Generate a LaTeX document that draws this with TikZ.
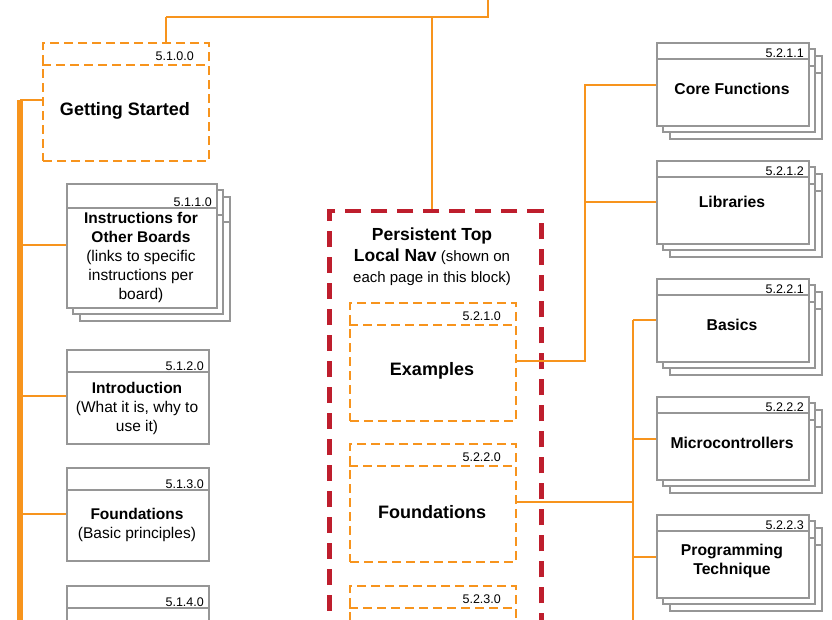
\documentclass[tikz,border=0pt]{standalone}
\usepackage{fontspec}
\setmainfont{Liberation Sans}
\definecolor{org}{RGB}{247,148,29}
\definecolor{grayb}{RGB}{150,150,150}
\definecolor{redd}{RGB}{190,30,45}
\begin{document}
\begin{tikzpicture}[x=1pt,y=-1pt,
  gbox/.style={draw=grayb,line width=2.3pt},
  obox/.style={draw=org,line width=2.3pt,dash pattern=on 9pt off 5pt},
  rbox/.style={draw=redd,line width=4.5pt,dash pattern=on 16pt off 10pt},
  con/.style={draw=org,line width=2.3pt},
  lbl/.style={font=\fontsize{12.5}{13}\selectfont,inner sep=1pt},
  ttl/.style={font=\bfseries\fontsize{15.7}{18.5}\selectfont,align=center,inner sep=0},
  big/.style={font=\bfseries\fontsize{18}{20}\selectfont,align=center,inner sep=0},
  txt/.style={font=\fontsize{15.5}{19}\selectfont,align=center,inner sep=0}]
\useasboundingbox (0,0) rectangle (832,620);
\newcommand\stk[7]{%
  \foreach \o in {14,7}{\draw[gbox,fill=white] (#2+\o,#3+\o) rectangle ++(#4,#5);
    \draw[gbox] (#2+\o,#3+\o+#6) -- ++(#4,0);}
  \node[gbox,fill=white,minimum width=#4pt,minimum height=#5pt,anchor=north west,inner sep=0] (#1) at (#2,#3) {};
  \draw[gbox] (#2,#3+#6) -- ++(#4,0);
  \node[lbl,anchor=south east] at (#2+#4-3,#3+#6) {#7};}
\newcommand\sgl[7]{%
  \node[gbox,fill=white,minimum width=#4pt,minimum height=#5pt,anchor=north west,inner sep=0] (#1) at (#2,#3) {};
  \draw[gbox] (#2,#3+#6) -- ++(#4,0);
  \node[lbl,anchor=south east] at (#2+#4-3,#3+#6) {#7};}
\newcommand\obx[7]{%
  \node[obox,minimum width=#4pt,minimum height=#5pt,anchor=north west,inner sep=0] (#1) at (#2,#3) {};
  \draw[obox] (#2,#3+#6) -- ++(#4,0);
  \node[lbl,anchor=south east] at (#2+#4-13,#3+#6-3) {#7};}
% top connectors
\coordinate (t0) at (488,0);
\coordinate (tl) at (166,17);
\coordinate (tm) at (432,17);
\draw[con] (t0) |- (tl);
% Getting started
\obx{gs}{42}{42}{166}{118}{23}{5.1.0.0}
\node[big] at (125,111) {Getting Started};
\draw[con] (tl) -- (gs.north -| tl);
% left spine
\coordinate (sp0) at (20,100);
\coordinate (sp1) at (20,622);
\draw[org,line width=5.5pt] (sp0) -- (sp1);
\draw[con] (sp0) -- (gs.west |- sp0);
\stk{ib}{66}{183}{150}{124}{25}{5.1.1.0}
\node[txt] at (141,257) {\textbf{Instructions for}\\\textbf{Other Boards}\\(links to specific\\instructions per\\board)};
\sgl{in}{66}{349}{142}{94}{23}{5.1.2.0}
\node[txt] at (137,408) {\textbf{Introduction}\\(What it is, why to\\use it)};
\sgl{fo}{66}{467}{142}{93}{23}{5.1.3.0}
\node[txt] at (137,525) {\textbf{Foundations}\\(Basic principles)};
\sgl{p4}{66}{585}{142}{60}{23}{5.1.4.0}
\draw[con] (20,245) -- (ib.west |- 0,245);
\draw[con] (20,396) -- (in.west |- 0,396);
\draw[con] (20,514) -- (fo.west |- 0,514);
% red box
\node[rbox,minimum width=212pt,minimum height=440pt,anchor=north west,inner sep=0] (rb) at (327,209) {};
\draw[con] (tm) -- (rb.north -| tm);
\node[txt,font=\fontsize{15}{21}\selectfont] at (432,257) {\textbf{\fontsize{17.5}{21}\selectfont Persistent Top}\\\textbf{\fontsize{17.5}{21}\selectfont Local Nav} (shown on\\each page in this block)};
\obx{ex}{349}{302}{166}{118}{23}{5.2.1.0}
\node[big] at (432,371) {Examples};
\obx{f2}{349}{443}{166}{118}{23}{5.2.2.0}
\node[big] at (432,512) {Foundations};
\obx{f3}{349}{585}{166}{118}{23}{5.2.3.0}
% right column
\stk{cf}{656}{42}{152}{83}{17}{5.2.1.1}
\node[ttl] at (732,89) {Core Functions};
\stk{li}{656}{160}{152}{83}{17}{5.2.1.2}
\node[ttl] at (732,202) {Libraries};
\stk{ba}{656}{278}{152}{83}{17}{5.2.2.1}
\node[ttl] at (732,325) {Basics};
\stk{mc}{656}{396}{152}{83}{17}{5.2.2.2}
\node[ttl] at (732,443) {Microcontrollers};
\stk{pt}{656}{514}{152}{83}{17}{5.2.2.3}
\node[ttl] at (732,561) {Programming\\Technique};
% right connectors
\coordinate (c1) at (585,361);
\coordinate (c2) at (633,502);
\coordinate (c2b) at (633,622);
\draw[con] (ex.east |- c1) -- (c1) |- (cf.west |- 0,85);
\draw[con] (585,202) -- (li.west |- 0,202);
\draw[con] (f2.east |- c2) -- (c2);
\draw[con] (633,320) -- (c2b);
\draw[con] (633,320) -- (ba.west |- 0,320);
\draw[con] (633,439) -- (mc.west |- 0,439);
\draw[con] (633,557) -- (pt.west |- 0,557);
\end{tikzpicture}
\end{document}
